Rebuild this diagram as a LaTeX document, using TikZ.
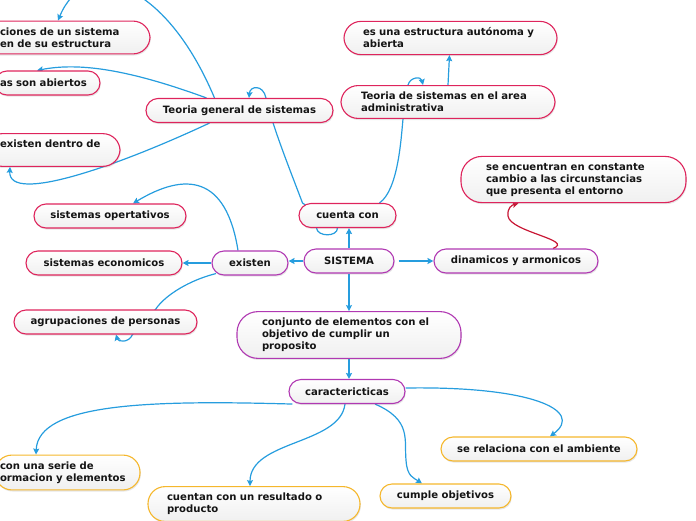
\documentclass[tikz,border=0pt]{standalone}
\usepackage{fontspec}
\setmainfont{DejaVu Sans}
\usetikzlibrary{arrows.meta,shadows,backgrounds}
\definecolor{linkblue}{RGB}{38,157,222}
\definecolor{linkred}{RGB}{200,22,52}
\definecolor{pinkline}{RGB}{222,36,92}
\definecolor{violetline}{RGB}{176,56,178}
\definecolor{yellowline}{RGB}{245,183,44}
\definecolor{inkblack}{RGB}{20,20,20}
\hyphenpenalty=10000
\exhyphenpenalty=10000

\begin{document}
\begin{tikzpicture}[x=1pt,y=-1pt,
	box/.style={draw,line width=1.1pt,rounded corners=12pt,top color=white,bottom color=black!6,
		drop shadow={opacity=0.2,shadow xshift=0.8pt,shadow yshift=-1.6pt},
		text=inkblack,font=\fontsize{10.1}{12}\selectfont\bfseries,
		minimum height=24pt,inner xsep=0pt,inner ysep=6.5pt},
	pinkbox/.style={box,draw=pinkline},
	violetbox/.style={box,draw=violetline},
	yellowbox/.style={box,draw=yellowline},
	twoline/.style={align=left,rounded corners=17pt},
	threeline/.style={align=left,rounded corners=21pt},
	link/.style={draw=linkblue,line width=1.2pt,-{Stealth[length=6pt,width=6pt,inset=1pt]}}]

\useasboundingbox (0,0) rectangle (696,520);

% centre
\node[violetbox,minimum width=90pt] (sistema) at (349,261) {SISTEMA};
\node[pinkbox,minimum width=97pt] (cuenta) at (347.5,215.5) {cuenta con};
\node[violetbox,minimum width=76pt] (existen) at (250,263) {existen};
\node[violetbox,minimum width=164pt] (dinam) at (516,261) {dinamicos y armonicos};
\node[violetbox,threeline,minimum width=224pt,text width=174pt] (conjunto) at (349,335)
	{conjunto de elementos con el\\objetivo de cumplir un\\proposito};
\node[violetbox,minimum width=116pt] (caract) at (347,391.5) {caractericticas};

% teorias
\node[pinkbox,minimum width=187pt] (tgs) at (239.5,110.5) {Teoria general de sistemas};
\node[pinkbox,twoline,minimum width=214pt,text width=174pt] (tsa) at (448,102)
	{Teoria de sistemas en el area\\administrativa};
\node[pinkbox,twoline,minimum width=213pt,text width=175pt] (estruct) at (450.5,38)
	{es una estructura autónoma y\\abierta};
\node[pinkbox,twoline,minimum width=180pt,text width=120pt] (funciones) at (60,37.5)
	{ciones de un sistema\\en de su estructura};
\node[pinkbox,minimum width=105pt,text width=95pt,align=left] (abiertos) at (47.5,83) {as son abiertos};
\node[pinkbox,twoline,minimum width=135pt,text width=105pt] (dentro) at (52.5,150)
	{existen dentro de\\\mbox{}};
\node[pinkbox,threeline,minimum width=225pt,text width=175pt] (cambio) at (573.5,179.5)
	{se encuentran en constante\\cambio a las circunstancias\\que presenta el entorno};

% existen
\node[pinkbox,minimum width=152pt] (operat) at (110,216) {sistemas opertativos};
\node[pinkbox,minimum width=156pt] (econ) at (104,263) {sistemas economicos};
\node[pinkbox,minimum width=183pt] (agrup) at (105.5,322) {agrupaciones de personas};

% caractericticas
\node[yellowbox,twoline,minimum width=145pt,text width=135pt] (serie) at (67.5,472.5)
	{con una serie de\\ormacion y elementos};
\node[yellowbox,twoline,minimum width=212pt,text width=174pt] (resultado) at (254,504)
	{cuentan con un resultado o\\producto};
\node[yellowbox,minimum width=131pt] (objetivos) at (445.5,496) {cumple objetivos};
\node[yellowbox,minimum width=196pt] (ambiente) at (539,449) {se relaciona con el ambiente};

\begin{scope}[on background layer]
\draw[link] (sistema.north) -- (sistema.north |- cuenta.south);
\draw[link] ([xshift=-31pt]cuenta.south) .. controls +(1,9) and +(0,9) .. ([xshift=-10pt]cuenta.south)
	-- ([xshift=-45pt]cuenta.north) .. controls (290,170) and (272,125) .. ([xshift=26.5pt]tgs.north)
	.. controls +(-3,-14) and +(1,-12) .. ([xshift=9.5pt]tgs.north);
\draw[link] ([xshift=32pt]cuenta.north) .. controls (398,190) and (401,140) .. ([xshift=-45pt]tsa.south)
	-- ([xshift=-40pt]tsa.north) .. controls +(2,-8) and +(-2,-9) .. ([xshift=-25pt]tsa.north);
\draw[link] (tsa.north) -- ([xshift=-1pt]estruct.south);
\draw[link] ([xshift=-25pt]tgs.north) .. controls (165,-20) and (85,-45) .. ([xshift=-2pt]funciones.north);
\draw[link] ([xshift=-33pt]tgs.north) .. controls (130,70) and (80,62) .. ([xshift=-10.5pt]abiertos.north);
\draw[link] ([xshift=-30pt]tgs.south) .. controls (120,165) and (8,205) .. ([xshift=-42.5pt]dentro.south);

\draw[link] (sistema.west) -- (sistema.west -| existen.east);
\draw[link] (existen.west) -- (econ.east);
\draw[link] ([xshift=-12pt]existen.north) .. controls (226,175) and (185,172) .. ([xshift=23pt]operat.north);
\draw[link] ([xshift=-34pt,yshift=2pt]existen.south) .. controls (190,280) and (165,295) .. ([xshift=50pt]agrup.north)
	-- ([xshift=27pt]agrup.south) .. controls +(-4,9) and +(2,7) .. ([xshift=10.5pt]agrup.south);

\draw[link] ([xshift=4pt]sistema.east) -- (dinam.west);
\draw[link,draw=linkred] ([xshift=37pt]dinam.north) .. controls (575,240) and (510,232) .. (508,216)
	.. controls (507,208) and (512,205) .. ([xshift=-55pt]cambio.south);

\draw[link] (sistema.south) -- (conjunto.north);
\draw[link] (conjunto.south) -- (conjunto.south |- caract.north);
\draw[link] ([xshift=4pt]caract.south west) .. controls (150,400) and (38,403) .. ([xshift=-31.5pt]serie.north);
\draw[link] ([xshift=-2pt]caract.south) .. controls (340,445) and (250,440) .. ([xshift=-4pt]resultado.north);
\draw[link] ([xshift=28pt]caract.south) .. controls (412,420) and (404,440) .. (406,460)
	.. controls (407,477) and (414,478) .. ([xshift=-23.5pt]objetivos.north);
\draw[link] ([yshift=3.5pt]caract.east) .. controls (530,386) and (585,410) .. ([xshift=11pt]ambiente.north);
\end{scope}
\end{tikzpicture}
\end{document}
